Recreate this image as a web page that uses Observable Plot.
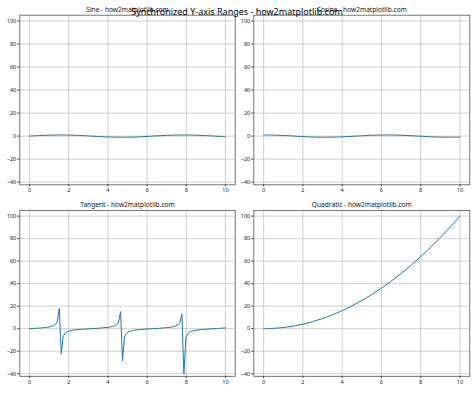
<!DOCTYPE html>
<html>
<head>
<meta charset="utf-8">
<script src="https://cdn.jsdelivr.net/npm/d3@7"></script>
<script src="https://cdn.jsdelivr.net/npm/@observablehq/plot@0.6"></script>
<style>
  html, body { margin: 0; padding: 0; background: #fff; }
  #fig { position: relative; width: 474px; height: 395px; background: #fff; overflow: hidden; font-family: "Noto Sans", "Open Sans", sans-serif; }
  .panel { position: absolute; }
  #suptitle { position: absolute; left: 0; width: 474px; top: 6px; text-align: center; font-size: 9px; line-height: 11px; color: #000; white-space: nowrap; pointer-events: none; }
</style>
</head>
<body>
<div id="fig">
  <div class="panel" id="p0" style="left:0px;top:0px"></div>
  <div class="panel" id="p1" style="left:237px;top:0px"></div>
  <div class="panel" id="p2" style="left:0px;top:197px"></div>
  <div class="panel" id="p3" style="left:237px;top:197px"></div>
  <div id="suptitle">Synchronized Y-axis Ranges - how2matplotlib.com</div>
</div>
<script>
// ---- data ----
const smoothX = [0, 0.5, 1, 1.5, 2, 2.5, 3, 3.5, 4, 4.5, 5, 5.5, 6, 6.5, 7, 7.5, 8, 8.5, 9, 9.5, 10];
const sineY = [0, 0.479, 0.841, 0.997, 0.909, 0.598, 0.141, -0.351, -0.757, -0.978, -0.959, -0.706, -0.279, 0.215, 0.657, 0.938, 0.989, 0.798, 0.412, -0.075, -0.544];
const cosineY = [1, 0.878, 0.540, 0.071, -0.416, -0.801, -0.990, -0.936, -0.654, -0.211, 0.284, 0.709, 0.960, 0.977, 0.754, 0.347, -0.146, -0.602, -0.911, -0.997, -0.839];
const quadY = [0, 0.25, 1, 2.25, 4, 6.25, 9, 12.25, 16, 20.25, 25, 30.25, 36, 42.25, 49, 56.25, 64, 72.25, 81, 90.25, 100];
const tanX = [0, 0.505, 0.808, 1.010, 1.111, 1.212, 1.313, 1.414, 1.515, 1.616, 1.717, 1.818, 1.919, 2.020, 2.222, 2.525, 3.030, 3.535, 4.040, 4.242, 4.343, 4.444, 4.545, 4.646, 4.747, 4.848, 4.949, 5.051, 5.152, 5.354, 5.657, 6.061, 6.566, 7.071, 7.273, 7.374, 7.475, 7.576, 7.677, 7.778, 7.879, 7.980, 8.081, 8.182, 8.283, 8.485, 8.788, 9.091, 9.596, 10];
const tanY = [0, 0.553, 1.045, 1.595, 2.018, 2.667, 3.794, 6.33, 17.95, -22.03, -6.78, -3.96, -2.76, -2.07, -1.31, -0.707, -0.112, 0.416, 1.253, 1.968, 2.585, 3.642, 5.93, 15.15, -28.49, -7.31, -4.14, -2.85, -2.13, -1.342, -0.724, -0.226, 0.290, 1.005, 1.524, 1.921, 2.513, 3.505, 5.584, 13.10, -40.29, -7.91, -4.33, -2.94, -2.19, -1.371, -0.740, -0.347, 0.173, 0.648];
const titles = ["Sine - how2matplotlib.com", "Cosine - how2matplotlib.com", "Tangent - how2matplotlib.com", "Quadratic - how2matplotlib.com"];
const xTicks = [0, 2, 4, 6, 8, 10];
const yTicks = [-40, -20, 0, 20, 40, 60, 80, 100];
const yDomain = [-42.3, 105];
const xDomain = [-0.5, 10.5];

const series = [
  {xs: smoothX, ys: sineY, curve: "catmull-rom"},
  {xs: smoothX, ys: cosineY, curve: "catmull-rom"},
  {xs: tanX, ys: tanY, curve: "linear"},
  {xs: smoothX, ys: quadY, curve: "catmull-rom"}
];

const layouts = [
  {width: 237, height: 197, marginLeft: 19.3, marginRight: 2.3, marginTop: 14.7, marginBottom: 12.7},
  {width: 237, height: 197, marginLeft: 16.3, marginRight: 4.7, marginTop: 14.7, marginBottom: 12.7},
  {width: 237, height: 198, marginLeft: 19.3, marginRight: 2.3, marginTop: 13.0, marginBottom: 19.2},
  {width: 237, height: 198, marginLeft: 16.3, marginRight: 4.7, marginTop: 13.0, marginBottom: 19.2}
];

series.forEach((s, i) => {
  const data = s.xs.map((x, j) => ({x, y: s.ys[j]}));
  const L = layouts[i];
  const chart = Plot.plot({
    ...L,
    style: {fontFamily: '"Noto Sans", "Open Sans", sans-serif', fontSize: "5.6px", color: "#222", background: "transparent", overflow: "visible"},
    x: {domain: xDomain},
    y: {domain: yDomain},
    marks: [
      Plot.gridX(xTicks, {stroke: "#b0b0b0", strokeOpacity: 1, strokeWidth: 0.6}),
      Plot.gridY(yTicks, {stroke: "#b0b0b0", strokeOpacity: 1, strokeWidth: 0.6}),
      Plot.line(data, {x: "x", y: "y", stroke: "#1f77b4", strokeWidth: 1, curve: s.curve, clip: true}),
      Plot.frame({stroke: "#555", strokeWidth: 0.8}),
      Plot.axisX({ticks: xTicks, tickSize: 2, tickPadding: 1.5, label: null, stroke: "#333"}),
      Plot.axisY({ticks: yTicks, tickSize: 2, tickPadding: 1.5, label: null, stroke: "#333"}),
      Plot.text([titles[i]], {frameAnchor: "top", lineAnchor: "bottom", dy: -3.3, fontSize: 6.6, fill: "#111"})
    ]
  });
  document.getElementById("p" + i).appendChild(chart);
});
</script>
</body>
</html>
